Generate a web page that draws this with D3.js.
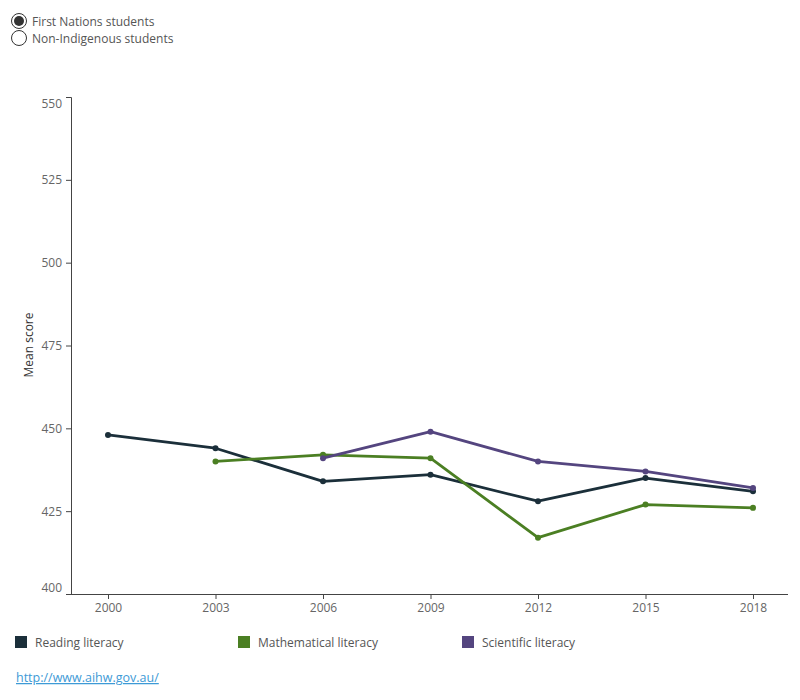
<!DOCTYPE html>
<html>
<head>
<meta charset="utf-8">
<script src="https://cdn.jsdelivr.net/npm/d3@7"></script>
<style>
  body { margin: 0; background: #fff; font-family: "Open Sans", sans-serif; }
  svg text { font-family: "Open Sans", sans-serif; }
</style>
</head>
<body>
<svg id="chart" width="800" height="700"></svg>
<script>
// chart data
var years = [2000, 2003, 2006, 2009, 2012, 2015, 2018];
var reading = [448, 444, 434, 436, 428, 435, 431];
var maths = [null, 440, 442, 441, 417, 427, 426];
var science = [null, null, 441, 449, 440, 437, 432];
var yTicks = [400, 425, 450, 475, 500, 525, 550];
var seriesNames = ["Reading literacy", "Mathematical literacy", "Scientific literacy"];
var seriesColors = ["#1b2f3a", "#4b7f23", "#54457f"];
var toggles = ["First Nations students", "Non-Indigenous students"];

var svg = d3.select("#chart");

// radio toggles
var radio = svg.append("g");
toggles.forEach(function(t, i) {
  var g = radio.append("g").attr("transform", "translate(19," + (21 + i * 17) + ")");
  g.append("circle").attr("r", 7.5).attr("fill", "#fff").attr("stroke", "#333").attr("stroke-width", 1);
  if (i === 0) {
    g.append("circle").attr("r", 5).attr("fill", "#333");
  }
  g.append("text").attr("x", 13).attr("y", 4.5).attr("font-size", 12).attr("fill", "#555").text(t);
});

var x = d3.scalePoint().domain(years).range([108, 753]);
var y = d3.scaleLinear().domain([400, 550]).range([594, 97]);

// y axis
var yAxis = svg.append("g").attr("transform", "translate(71,0)")
  .call(d3.axisLeft(y).tickValues(yTicks).tickSize(5).tickSizeOuter(5));
yAxis.select(".domain").attr("stroke", "#444");
yAxis.selectAll(".tick line").attr("stroke", "#444");
yAxis.selectAll(".tick text").attr("font-size", 12).attr("fill", "#666").attr("x", -9)
  .attr("dy", function(d) { return d === 550 ? "0.9em" : d === 400 ? "-0.25em" : "0.32em"; });

// x axis
var xAxis = svg.append("g").attr("transform", "translate(0,594)")
  .call(d3.axisBottom(x).tickSize(5).tickSizeOuter(0));
xAxis.select(".domain").attr("d", "M71,0.5H788").attr("stroke", "#444");
xAxis.selectAll(".tick line").attr("stroke", "#444");
xAxis.selectAll(".tick text").attr("font-size", 12).attr("fill", "#666").attr("y", 9);

svg.append("text")
  .attr("transform", "translate(33,345) rotate(-90)")
  .attr("text-anchor", "middle")
  .attr("font-size", 12)
  .attr("fill", "#333")
  .text("Mean score");

// lines
var data = [reading, maths, science];
var line = d3.line()
  .defined(function(d) { return d != null; })
  .x(function(d, i) { return x(years[i]); })
  .y(function(d) { return y(d); });

data.forEach(function(vals, k) {
  var g = svg.append("g");
  g.append("path")
    .datum(vals)
    .attr("d", line)
    .attr("fill", "none")
    .attr("stroke", seriesColors[k])
    .attr("stroke-width", 2.8)
    .attr("stroke-linejoin", "round");
  g.selectAll("circle")
    .data(vals.map(function(v, i) { return { v: v, yr: years[i] }; }).filter(function(d) { return d.v != null; }))
    .join("circle")
    .attr("cx", function(d) { return x(d.yr); })
    .attr("cy", function(d) { return y(d.v); })
    .attr("r", 3)
    .attr("fill", seriesColors[k]);
});

// legend
var legX = [15, 238, 462];
seriesNames.forEach(function(n, i) {
  var g = svg.append("g").attr("transform", "translate(" + legX[i] + ",636)");
  g.append("rect").attr("width", 12).attr("height", 12).attr("fill", seriesColors[i]);
  g.append("text").attr("x", 20).attr("y", 11).attr("font-size", 12).attr("fill", "#555").text(n);
});

svg.append("text")
  .attr("x", 16).attr("y", 682)
  .attr("font-size", 12.5)
  .attr("fill", "#3d9ad6")
  .attr("text-decoration", "underline")
  .text("http://www.aihw.gov.au/");
</script>
</body>
</html>
